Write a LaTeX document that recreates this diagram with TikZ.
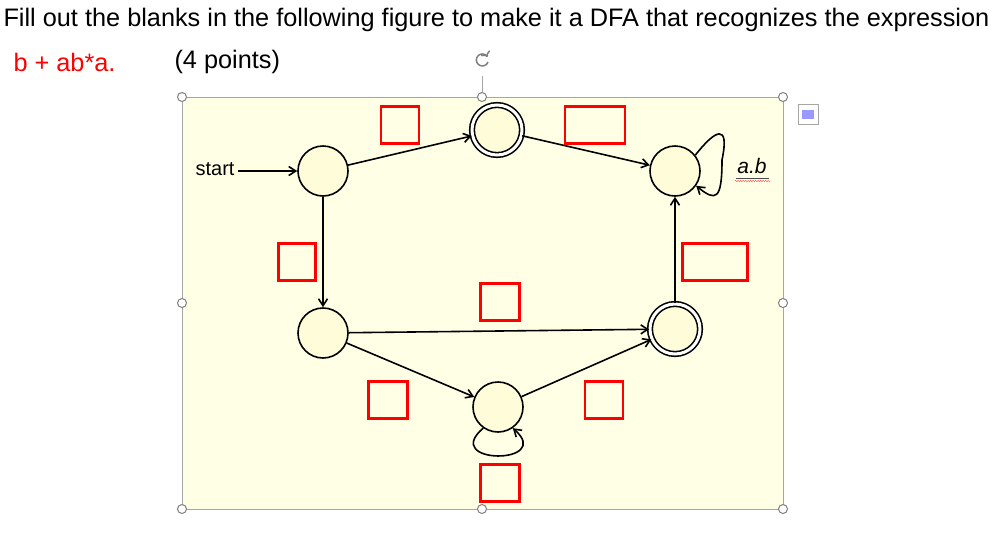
\documentclass[tikz,border=0pt]{standalone}
\usepackage{fontspec}
\setmainfont{Liberation Sans}
\usetikzlibrary{arrows.meta,decorations.pathmorphing}
\begin{document}
\begin{tikzpicture}[x=1pt,y=-1pt,
  st/.style={circle,draw,line width=1.6pt,fill=white!85!yellow,minimum size=50pt,inner sep=0},
  acc/.style={st,double,double distance=3pt},
  blank/.style={draw=red,line width=2.6pt,inner sep=0,minimum width=#1,minimum height=37pt},
  edge/.style={line width=1.6pt,-{Straight Barb[length=7pt,width=9pt]}},
  handle/.style={circle,draw=gray,line width=1pt,fill=white,minimum size=9pt,inner sep=0}]
\useasboundingbox (0,0) rectangle (999,544);
\node[anchor=west,font=\fontsize{25.3}{28}\selectfont] (t1) at (0,20) {Fill out the blanks in the following figure to make it a DFA that recognizes the expression};
\node[anchor=west,font=\fontsize{25.3}{28}\selectfont,text=red] (t2) at (10,62) {b + ab*a.};
\node[anchor=west,font=\fontsize{25.3}{28}\selectfont] (t3) at (171,62) {(4 points)};
\draw[gray!70,line width=1pt,fill={rgb,255:red,255;green,255;blue,230}] (182,97) rectangle (783,509);
\foreach \p [count=\i] in {(182,97),(482,97),(783,97),(182,303),(783,303),(182,509),(482,509),(783,509)}
  \node[handle] (h\i) at \p {};
\draw[gray!70,line width=1pt] (482,92) -- (482,76);
\draw[gray,line width=1.5pt,->] (488,62) arc (20:330:6);
\node[draw=gray!70,fill=white,minimum size=20pt,inner sep=0] (ico) at (808,114) {};
\node[fill=blue!40,minimum width=12pt,minimum height=9pt,inner sep=0] at (808,114) {};
\node[st] (A) at (323,171) {};
\node[acc] (B) at (497,130) {};
\node[st] (C) at (675,171) {};
\node[st] (D) at (323,333) {};
\node[acc] (E) at (675,329) {};
\node[st] (F) at (498,407) {};
\node[anchor=east,font=\fontsize{20}{22}\selectfont] (s) at (238,169) {start};
\draw[edge] (s.east |- A.west) -- (A.west);
\draw[edge] (A) -- (B);
\draw[edge] (B) -- (C);
\draw[edge] (A) -- (D);
\draw[edge] (D) -- (E);
\draw[edge] (D) -- (F);
\draw[edge] (F) -- (E);
\draw[edge] (E) -- (C);
\draw[edge] (C.38) .. controls (715,130) and (730,122) .. (722,160) .. controls (722,200) and (716,202) .. (C.-35);
\draw[edge] (F.-125) .. controls (440,465) and (555,465) .. (F.-55);
\node[font=\fontsize{21}{22}\selectfont\itshape] (lab) at (752,166) {a.b};
\draw[black!70,line width=0.6pt] (736,178) -- (769,178);
\draw[red!70,decorate,decoration={zigzag,amplitude=0.8pt,segment length=2.5pt}] (735,181) -- (770,181);
\node[blank=38pt] (b1) at (400,125) {};
\node[blank=60pt] (b2) at (595,125) {};
\node[blank=37pt] (b3) at (297,262) {};
\node[blank=65pt] (b4) at (715,262) {};
\node[blank=39pt] (b5) at (500,302) {};
\node[blank=39pt] (b6) at (388,400) {};
\node[blank=38pt] (b7) at (604,400) {};
\node[blank=39pt] (b8) at (500,483) {};
\end{tikzpicture}
\end{document}
